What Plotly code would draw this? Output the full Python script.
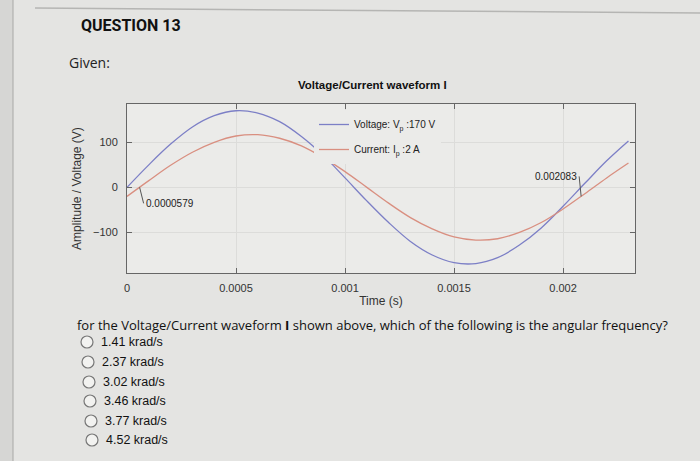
import plotly.graph_objects as go

# Valores (tiempo en s, amplitudes en V)
tiempo = [0, 0.0001, 0.0002, 0.0003, 0.0004, 0.0005, 0.0006, 0.0007, 0.0008,
          0.0009, 0.001, 0.0011, 0.0012, 0.0013, 0.0014, 0.0015, 0.0016,
          0.0017, 0.0018, 0.0019, 0.002, 0.0021, 0.0022, 0.0023]
voltaje = [0, 50, 96, 134, 159, 170, 165, 146, 113, 71, 21, -30, -78, -120,
           -150, -167, -169, -156, -128, -90, -42, 9, 59, 103]
corriente = [-20, 15, 49, 78, 100, 114, 117, 109, 92, 66, 35, 0, -35, -67,
             -92, -110, -117, -114, -100, -78, -48, -14, 21, 54]

x_ticks = [0, 0.0005, 0.001, 0.0015, 0.002]
x_tick_labels = ["0", "0.0005", "0.001", "0.0015", "0.002"]
y_ticks = [-100, 0, 100]

opciones = ["1.41 krad/s", "2.37 krad/s", "3.02 krad/s",
            "3.46 krad/s", "3.77 krad/s", "4.52 krad/s"]

# Area del grafico en pixeles
L, R, T, B = 127, 635, 104, 273
W, H = 700, 461


def px(x):
    return (x - L) / (R - L)


def py(y):
    return (B - y) / (B - T)


fig = go.Figure()

fig.add_trace(go.Scatter(
    x=tiempo, y=voltaje, mode="lines", line=dict(color="#7c7fc6", width=1.3, shape="spline"),
    name="Voltage: V<sub>p</sub> :170 V", legendgroup="v", hoverinfo="skip"
))
fig.add_trace(go.Scatter(
    x=tiempo, y=corriente, mode="lines", line=dict(color="#d98f80", width=1.3, shape="spline"),
    name="Current: I<sub>p</sub> :2 A", legendgroup="i", hoverinfo="skip"
))

fuente_graf = "Liberation Sans"

fig.update_layout(
    width=W, height=H,
    margin=dict(l=L, r=W - R, t=T, b=H - B),
    paper_bgcolor="#e4e4e2",
    plot_bgcolor="#ebebe9",
    showlegend=True,
    hovermode=False,
    legend=dict(
        x=px(314), y=py(110), xanchor="left", yanchor="top",
        bgcolor="#ebebe9", borderwidth=0,
        font=dict(family=fuente_graf, size=10, color="#222"),
        tracegroupgap=6,
    ),
    font=dict(family=fuente_graf, size=11, color="#333"),
)

fig.update_xaxes(
    range=[0, 0.00233], tickvals=x_ticks, ticktext=x_tick_labels,
    showgrid=True, gridcolor="#dcdcda", zeroline=False,
    showline=True, linecolor="#666", linewidth=1, mirror="ticks",
    ticks="inside", ticklen=5, tickcolor="#666", ticklabelstandoff=5,
    title=dict(text="Time (s)", font=dict(size=12, color="#333"), standoff=3),
)
fig.update_yaxes(
    range=[-190, 185], tickvals=y_ticks,
    showgrid=True, gridcolor="#dcdcda", zeroline=False,
    showline=True, linecolor="#666", linewidth=1, mirror="ticks",
    ticks="inside", ticklen=5, tickcolor="#666", ticklabelstandoff=6,
    title=dict(text="Amplitude / Voltage (V)", font=dict(size=12, color="#333"), standoff=8),
)

# Marcas de tiempo
fig.add_annotation(x=0.0000579, y=0, text="0.0000579", showarrow=True, arrowhead=0,
                   arrowwidth=1, arrowcolor="#555", ax=4, ay=16, xanchor="left",
                   font=dict(family=fuente_graf, size=10, color="#222"))
fig.add_annotation(x=0.002083, y=-20, text="0.002083", showarrow=True, arrowhead=0,
                   arrowwidth=1, arrowcolor="#555", ax=-2, ay=-20, xanchor="right",
                   font=dict(family=fuente_graf, size=10, color="#222"))

# Texto de la pagina
fig.add_annotation(xref="paper", yref="paper", x=px(372), y=py(85), yanchor="middle",
                   text="<b>Voltage/Current waveform I</b>", showarrow=False,
                   font=dict(family=fuente_graf, size=11.5, color="#111"))
fig.add_annotation(xref="paper", yref="paper", x=px(79), y=py(25), xanchor="left", yanchor="middle",
                   text="<b>QUESTION 13</b>", showarrow=False,
                   font=dict(family="Roboto", size=16, color="#111"))
fig.add_annotation(xref="paper", yref="paper", x=px(67), y=py(62), xanchor="left", yanchor="middle",
                   text="Given:", showarrow=False,
                   font=dict(family="Open Sans", size=14, color="#222"))
fig.add_annotation(xref="paper", yref="paper", x=px(75), y=py(325), xanchor="left", yanchor="middle",
                   text="for the Voltage/Current waveform <b>I</b> shown above, which of the following is the angular frequency?",
                   showarrow=False, font=dict(family="Open Sans", size=13, color="#111"))

filas_y = [342, 362, 382, 401, 421, 440]
circ_x = [87, 88, 89, 90, 91, 92]
for texto, yy, cx in zip(opciones, filas_y, circ_x):
    fig.add_shape(type="circle", xref="paper", yref="paper",
                  x0=px(cx - 6), x1=px(cx + 6), y0=py(yy + 6), y1=py(yy - 6),
                  line=dict(color="#777", width=1.2), fillcolor="#f2f2f0")
    fig.add_annotation(xref="paper", yref="paper", x=px(cx + 12), y=py(yy), xanchor="left", yanchor="middle",
                       text=texto, showarrow=False,
                       font=dict(family=fuente_graf, size=12.5, color="#111"))

# Bordes de la pagina
fig.add_shape(type="line", xref="paper", yref="paper", x0=px(35), x1=px(700),
              y0=py(8), y1=py(13), line=dict(color="#b5b5b3", width=1.5))
fig.add_shape(type="rect", xref="paper", yref="paper", x0=px(0), x1=px(13),
              y0=py(461), y1=py(0), line=dict(width=0), fillcolor="#d6d6d4", layer="below")
fig.add_shape(type="line", xref="paper", yref="paper", x0=px(13), x1=px(13),
              y0=py(461), y1=py(0), line=dict(color="#a8a8a6", width=1))

fig.write_html("out.html", config={"displayModeBar": False},
               post_script="document.body.style.margin='0';")
